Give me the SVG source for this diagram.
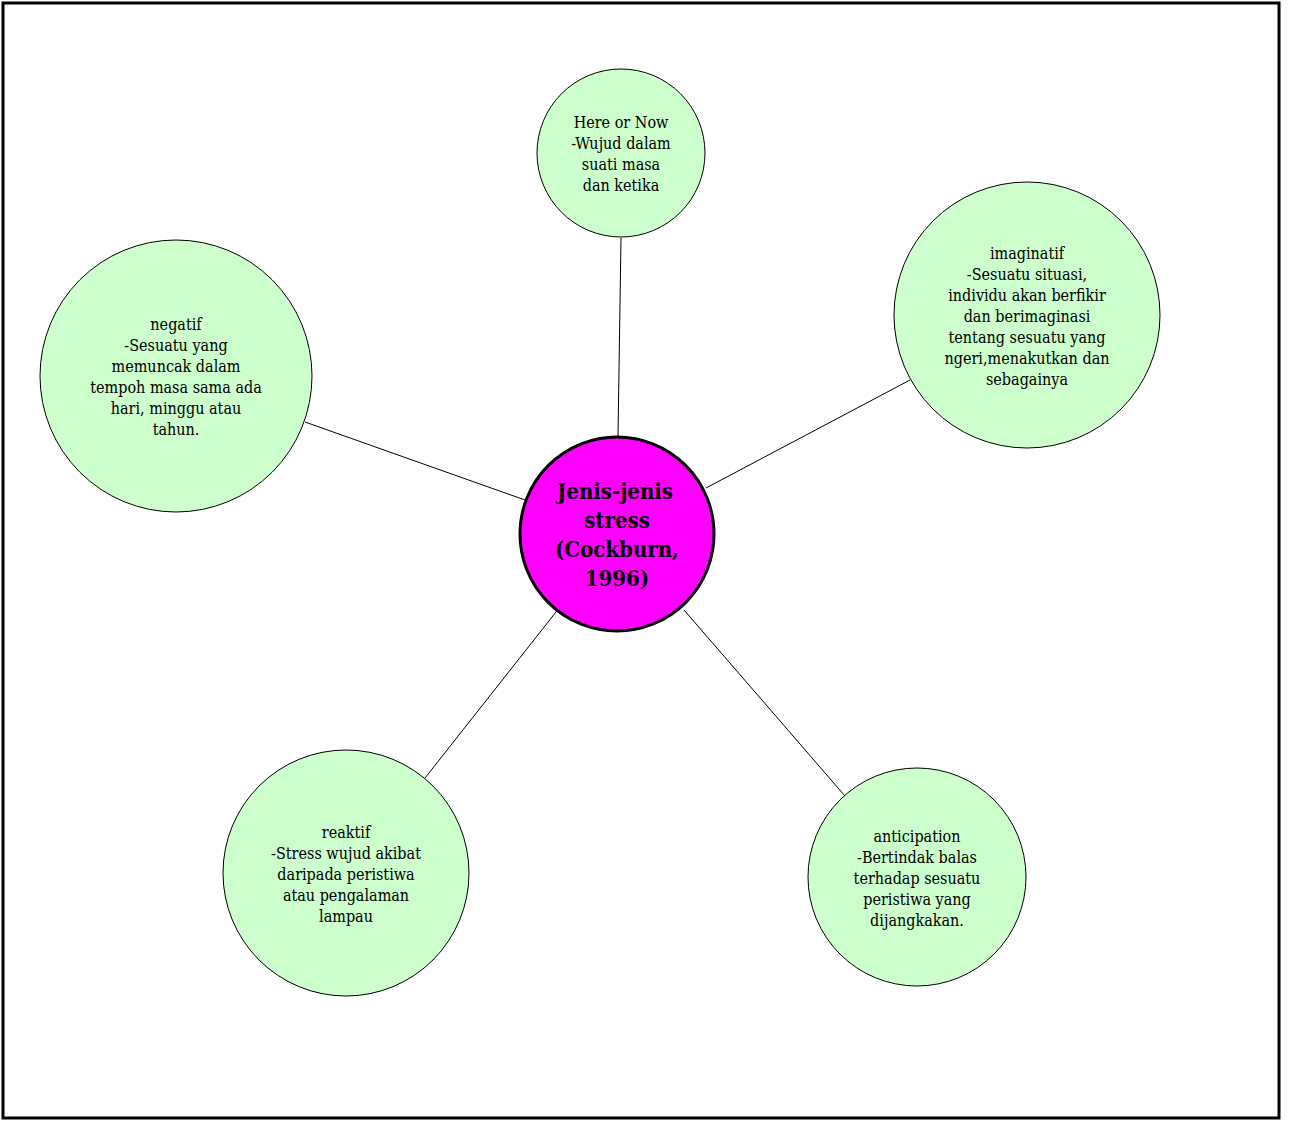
<svg xmlns="http://www.w3.org/2000/svg" width="1301" height="1141" viewBox="0 0 1301 1141">
<style>
.n{fill:#ccffcc;stroke:#000;stroke-width:1}
.t{font-family:"DejaVu Serif Condensed","DejaVu Serif",serif;font-stretch:condensed;font-size:16px;text-anchor:middle;fill:#000}
.c{font-family:"DejaVu Serif Condensed","DejaVu Serif",serif;font-stretch:condensed;font-size:22px;font-weight:bold;text-anchor:middle;fill:#000}
</style>
<rect x="0" y="0" width="1301" height="1141" fill="#fff"/>
<rect x="3" y="3" width="1276" height="1115" fill="none" stroke="#000" stroke-width="3"/>
<g id="connectors" stroke="#000" stroke-width="1">
<line x1="621" y1="238" x2="618" y2="436"/>
<line x1="706" y1="488" x2="910" y2="380"/>
<line x1="305" y1="422" x2="525" y2="500"/>
<line x1="425" y1="778" x2="556" y2="612"/>
<line x1="684" y1="610" x2="845" y2="796"/>
</g>
<g id="center"><circle cx="617" cy="534" r="97" fill="#ff00ff" stroke="#000" stroke-width="3"/>
<text class="c"><tspan x="615" y="499">Jenis-jenis</tspan><tspan x="617" y="528">stress</tspan><tspan x="617" y="557">(Cockburn,</tspan><tspan x="617" y="586">1996)</tspan></text></g>
<g id="herenow"><circle class="n" cx="621" cy="153" r="84"/>
<text class="t"><tspan x="621" y="128">Here or Now</tspan><tspan x="621" y="149">-Wujud dalam</tspan><tspan x="621" y="170">suati masa</tspan><tspan x="621" y="191">dan ketika</tspan></text></g>
<g id="imaginatif"><circle class="n" cx="1027" cy="315" r="133"/>
<text class="t"><tspan x="1027" y="259">imaginatif</tspan><tspan x="1027" y="280">-Sesuatu situasi,</tspan><tspan x="1027" y="301">individu akan berfikir</tspan><tspan x="1027" y="322">dan berimaginasi</tspan><tspan x="1027" y="343">tentang sesuatu yang</tspan><tspan x="1027" y="364">ngeri,menakutkan dan</tspan><tspan x="1027" y="385">sebagainya</tspan></text></g>
<g id="negatif"><circle class="n" cx="176" cy="376" r="136"/>
<text class="t"><tspan x="176" y="330">negatif</tspan><tspan x="176" y="351">-Sesuatu yang</tspan><tspan x="176" y="372">memuncak dalam</tspan><tspan x="176" y="393">tempoh masa sama ada</tspan><tspan x="176" y="414">hari, minggu atau</tspan><tspan x="176" y="435">tahun.</tspan></text></g>
<g id="reaktif"><circle class="n" cx="346" cy="873" r="123"/>
<text class="t"><tspan x="346" y="838">reaktif</tspan><tspan x="346" y="859">-Stress wujud akibat</tspan><tspan x="346" y="880">daripada peristiwa</tspan><tspan x="346" y="901">atau pengalaman</tspan><tspan x="346" y="922">lampau</tspan></text></g>
<g id="anticipation"><circle class="n" cx="917" cy="877" r="109"/>
<text class="t"><tspan x="917" y="842">anticipation</tspan><tspan x="917" y="863">-Bertindak balas</tspan><tspan x="917" y="884">terhadap sesuatu</tspan><tspan x="917" y="905">peristiwa yang</tspan><tspan x="917" y="926">dijangkakan.</tspan></text></g>
</svg>
